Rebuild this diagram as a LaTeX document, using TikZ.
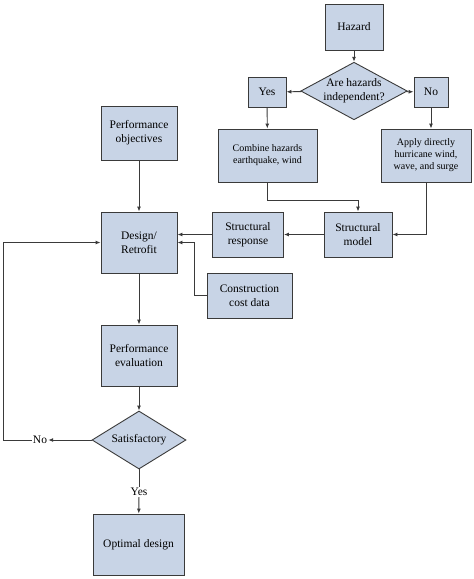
\documentclass[tikz,border=0pt]{standalone}
\usepackage{fontspec}
\setmainfont{Liberation Serif}
\usepackage{xcolor}
\usepackage{tikz}
\usetikzlibrary{arrows.meta, positioning, shapes}
\definecolor{boxfill}{HTML}{C8D4E6}
\definecolor{boxline}{HTML}{3A3A3A}
\tikzset{
  stepbox/.style={rectangle,draw=boxline,fill=boxfill,line width=0.9pt,inner sep=0pt,align=center,font=\fontsize{11.5}{14}\selectfont},
  smallbox/.style={stepbox,font=\fontsize{10}{12}\selectfont},
  decnode/.style={diamond,draw=boxline,fill=boxfill,line width=0.9pt,inner sep=0pt,align=center,font=\fontsize{11.5}{14}\selectfont},
  lblnode/.style={inner sep=1pt,fill=white,font=\fontsize{11.5}{14}\selectfont},
  flowline/.style={boxline,line width=0.9pt},
  flowarrow/.style={flowline,-{Latex[length=5pt,width=4pt]}},
}

\begin{document}
\begin{tikzpicture}[x=1pt,y=-1pt]
  \useasboundingbox (0,0) rectangle (474,579);
  \node[stepbox,minimum width=58,minimum height=46] (nHazard) at (354,27) {Hazard};
  \node[decnode,aspect=1.85,minimum width=100,minimum height=55] (nIndep) at (354,91) {Are hazards\\independent?};
  \node[stepbox,minimum width=38,minimum height=30] (nYes) at (267,92) {Yes};
  \node[stepbox,minimum width=34,minimum height=30] (nNo) at (431,92) {No};
  \node[smallbox,minimum width=99,minimum height=53] (nCombine) at (267.5,155.5) {Combine hazards\\earthquake, wind};
  \node[smallbox,minimum width=90,minimum height=53] (nApply) at (426,155.5) {Apply directly\\hurricane wind,\\wave, and surge};
  \node[stepbox,minimum width=68,minimum height=45] (nModel) at (358,234.5) {Structural\\model};
  \node[stepbox,minimum width=71,minimum height=45] (nResponse) at (248,234.5) {Structural\\response};
  \node[stepbox,minimum width=76,minimum height=54] (nObjectives) at (139,133) {Performance\\objectives};
  \node[stepbox,minimum width=76,minimum height=61] (nDesign) at (139,242.5) {Design/\\Retrofit};
  \node[stepbox,minimum width=85,minimum height=45] (nCost) at (249.5,295.5) {Construction\\cost data};
  \node[stepbox,minimum width=76,minimum height=61] (nEval) at (139,355.5) {Performance\\evaluation};
  \node[decnode,aspect=1.6,minimum width=94,minimum height=58] (nSatis) at (139,440) {Satisfactory};
  \node[stepbox,minimum width=91,minimum height=61] (nOptimal) at (138.5,544.5) {Optimal design};
  \node[lblnode] (nNoLabel) at (40,440) {No};
  \node[lblnode] (nYesLabel) at (139,492) {Yes};
  \coordinate (cLoop) at (3,440);
  \draw[flowarrow] (nHazard) -- (nIndep);
  \draw[flowarrow] (nIndep) -- (nYes);
  \draw[flowarrow] (nIndep) -- (nNo);
  \draw[flowarrow] (nYes) -- (nCombine);
  \draw[flowarrow] (nNo) -- (nNo |- nApply.north);
  \draw[flowarrow] (nCombine.south) -- ++(0,18) -| (nModel.north);
  \draw[flowarrow] (nApply.south) |- (nModel.east);
  \draw[flowarrow] (nModel) -- (nResponse);
  \draw[flowarrow] (nResponse.west) -- (nResponse.west -| nDesign.east);
  \draw[flowarrow] (nCost.west) -- ++(-12,0) |- (nDesign.east);
  \draw[flowarrow] (nObjectives) -- (nDesign);
  \draw[flowarrow] (nDesign) -- (nEval);
  \draw[flowarrow] (nEval) -- (nSatis);
  \draw[flowarrow] (nSatis) -- (nNoLabel);
  \draw[flowarrow] (nNoLabel) -- (cLoop) |- (nDesign.west);
  \draw[flowline] (nSatis) -- (nYesLabel);
  \draw[flowarrow] (nYesLabel) -- (nOptimal);
\end{tikzpicture}
\end{document}
